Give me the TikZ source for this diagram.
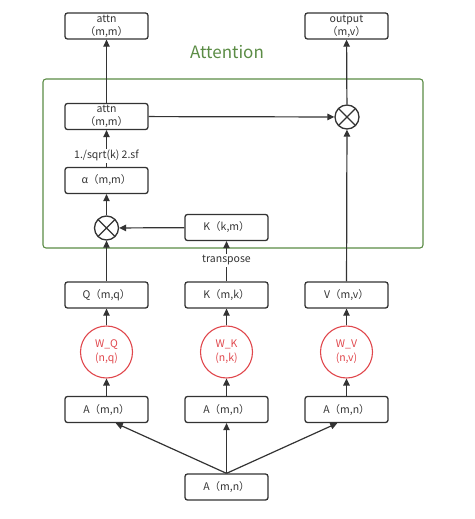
\documentclass[tikz,border=0pt]{standalone}
\usepackage{fontspec}
\newfontfamily\cjk{Noto Sans CJK SC}
\usepackage{tikz}
\usetikzlibrary{positioning,calc,arrows.meta}
\definecolor{ink}{HTML}{333333}
\definecolor{wred}{HTML}{E0474C}
\definecolor{agreen}{HTML}{5B8C45}

\begin{document}
\begin{tikzpicture}[x=1pt,y=-1pt,font=\cjk\fontsize{10.5}{13}\selectfont,
 m/.style={draw=ink,line width=1.3pt,rounded corners=2.5pt,minimum height=26pt,minimum width=83pt,inner sep=1pt,align=center,text=ink},
 w/.style={circle,draw=wred,line width=1.1pt,minimum size=52pt,inner sep=0pt,align=center,text=wred,font=\cjk\fontsize{10.5}{14}\selectfont},
 mul/.style={circle,draw=ink,line width=1.3pt,minimum size=24pt,inner sep=0pt,
  path picture={\draw[ink,line width=1.2pt] (path picture bounding box.north west) -- (path picture bounding box.south east)
   (path picture bounding box.north east) -- (path picture bounding box.south west);}},
 ar/.style={-{Triangle[length=7pt,width=6.5pt]},ink,line width=1.2pt},
 lbl/.style={fill=white,inner sep=1.5pt,text=ink}]
\useasboundingbox (0,0) rectangle (474,519);
% attention block
\draw[agreen,line width=1.1pt,rounded corners=3pt] (43,79) rectangle (423,248);
\node[text=agreen,font=\cjk\fontsize{17}{20}\selectfont] (title) at (227,52) {Attention};
\node[m] (at) at (106.5,26) {attn\\（m,m）};
\node[m] (out) at (346.5,26) {output\\（m,v）};
\node[m] (ai) at (106.5,116.5) {attn\\（m,m）};
\node[mul] (xr) at (347,117) {};
\node[m] (al) at (106.5,180.5) {α（m,m）};
\node[mul] (xl) at (106.5,228) {};
\node[m] (kt) at (226.5,227.5) {K（k,m）};
% inputs
\node[m] (q) at (106.5,295) {Q（m,q）};
\node[m] (k) at (226.5,295) {K（m,k）};
\node[m] (v) at (346.5,295) {V（m,v）};
\node[w] (wq) at (106.5,352) {W\_Q\\(n,q)};
\node[w] (wk) at (226.5,352) {W\_K\\(n,k)};
\node[w] (wv) at (346.5,352) {W\_V\\(n,v)};
\node[m] (a1) at (106.5,409.5) {A（m,n）};
\node[m] (a2) at (226.5,409.5) {A（m,n）};
\node[m] (a3) at (346.5,409.5) {A（m,n）};
\node[m] (a) at (226.5,487) {A（m,n）};
\draw[ar] (a.north) -- (a1.-56);
\draw[ar] (a.north) -- (a2);
\draw[ar] (a.north) -- (a3.-124);
\foreach \x/\y in {a1/wq,a2/wk,a3/wv,wq/q,wk/k,wv/v} \draw[ar] (\x) -- (\y);
\draw[ar] (k) -- node[lbl,pos=0.52] {transpose} (kt);
\draw[ar] (q) -- (xl);
\draw[ar] (kt) -- (xl);
\draw[ar] (xl) -- (al);
\draw[ar] (al) -- node[lbl,pos=0.3] {1./sqrt(k) 2.sf} (ai);
\draw[ar] (ai) -- (xr);
\draw[ar] (v) -- (xr);
\draw[ar] (ai) -- (at);
\draw[ar] (xr) -- (out);
\end{tikzpicture}
\end{document}
